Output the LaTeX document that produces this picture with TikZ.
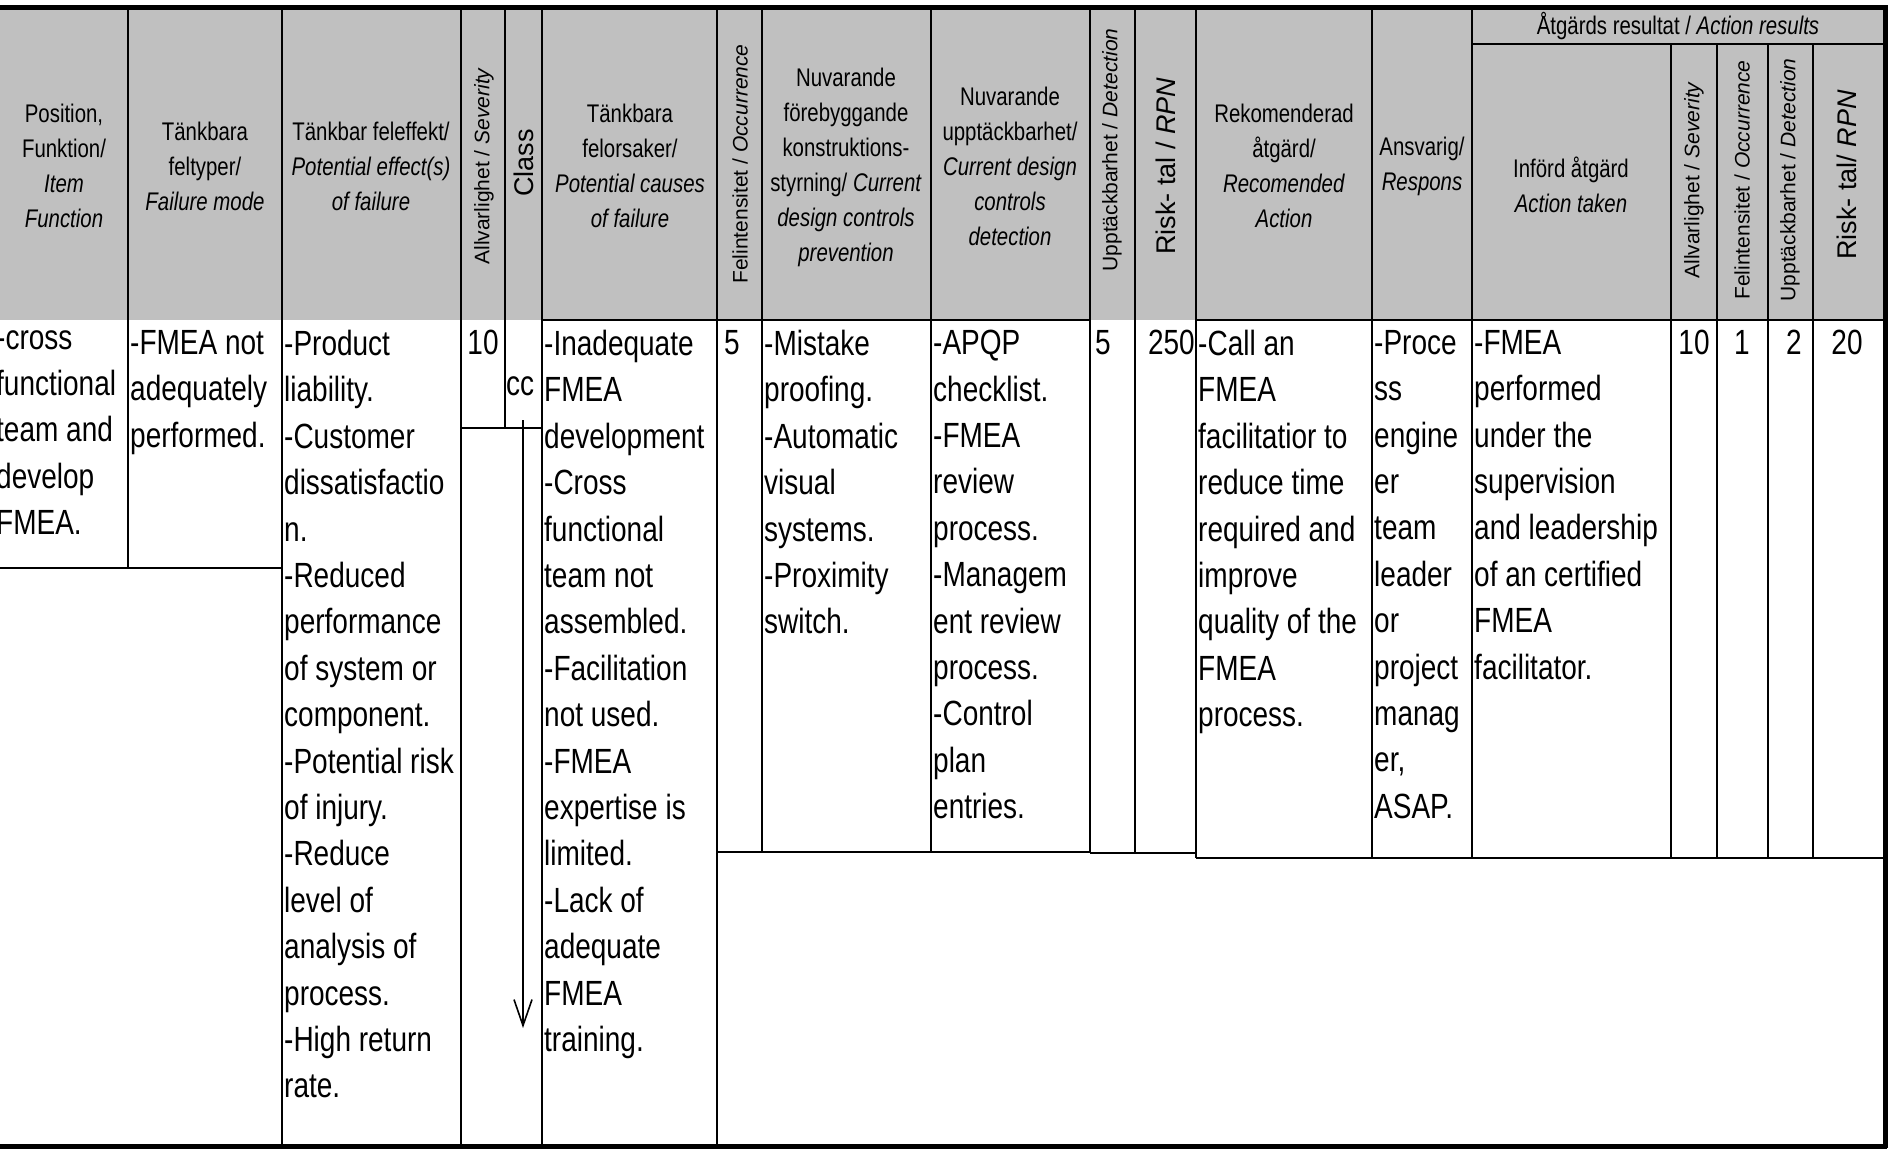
\documentclass[tikz,border=0pt]{standalone}
\usepackage{fontspec}
\usetikzlibrary{arrows.meta}
\newfontfamily\nf[FakeStretch=0.8]{Liberation Sans}
\newfontfamily\rf{Liberation Sans}
\definecolor{hdr}{HTML}{C0C0C0}
\tikzset{
  x=1pt,y=-1pt,
  hd/.style={align=center,inner sep=0pt,font=\nf\fontsize{25.5}{35}\selectfont},
  rot/.style={rotate=90,inner sep=0pt,font=\rf\fontsize{21}{24}\selectfont},
  rotb/.style={rotate=90,inner sep=0pt,font=\rf\fontsize{27}{30}\selectfont},
  bd/.style={anchor=north west,align=left,inner sep=0pt,font=\nf\fontsize{35}{46.4}\selectfont},
  num/.style={anchor=north,inner sep=0pt,font=\nf\fontsize{35}{46.4}\selectfont},
  ln/.style={line width=1.6pt},
  thick line/.style={line width=5pt}
}
\begin{document}
\begin{tikzpicture}
\useasboundingbox (0,0) rectangle (1890,1159);
\fill[hdr] (0,7) rectangle (1885,320);
% header texts
\node[hd] (h1) at (64,166) {Position,\\Funktion/\\\textit{Item}\\\textit{Function}};
\node[hd] (h2) at (205,166) {Tänkbara\\feltyper/\\\textit{Failure mode}};
\node[hd] (h3) at (371,166) {Tänkbar feleffekt/\\\textit{Potential effect(s)}\\\textit{of failure}};
\node[rot] (h4) at (484,166) {Allvarlighet / \textit{Severity}};
\node[rotb] (h5) at (524,163) {Class};
\node[hd] (h6) at (630,166) {Tänkbara\\felorsaker/\\\textit{Potential causes}\\\textit{of failure}};
\node[rot] (h7) at (740,164) {Felintensitet / \textit{Occurrence}};
\node[hd] (h8) at (846,167) {Nuvarande\\förebyggande\\konstruktions-\\styrning/ \textit{Current}\\\textit{design controls}\\\textit{prevention}};
\node[hd] (h9) at (1010,166) {Nuvarande\\upptäckbarhet/\\\textit{Current design}\\\textit{controls}\\\textit{detection}};
\node[rot] (h10) at (1112,150) {Upptäckbarhet / \textit{Detection}};
\node[rotb] (h11) at (1166,166) {Risk- tal / \textit{RPN}};
\node[hd] (h12) at (1284,166) {Rekomenderad\\åtgärd/\\\textit{Recomended}\\\textit{Action}};
\node[hd] (h13) at (1422,166) {Ansvarig/\\\textit{Respons}};
\node[hd] (h0) at (1678,26) {Åtgärds resultat / \textit{Action results}};
\node[hd] (h14) at (1571,185) {Införd åtgärd\\\textit{Action taken}};
\node[rot] (h15) at (1694,180) {Allvarlighet / \textit{Severity}};
\node[rot] (h16) at (1742,180) {Felintensitet / \textit{Occurrence}};
\node[rot] (h17) at (1790,180) {Upptäckbarhet / \textit{Detection}};
\node[rotb] (h18) at (1847,175) {Risk- tal/ \textit{RPN}};
% body texts
\node[bd] (b1) at (-4,330) {-cross\\functional\\team and\\develop\\FMEA.};
\node[bd] (b2) at (130,330) {-FMEA not\\adequately\\performed.};
\node[bd] (b3) at (284,330) {-Product\\liability.\\-Customer\\dissatisfactio\\n.\\-Reduced\\performance\\of system or\\component.\\-Potential risk\\of injury.\\-Reduce\\level of\\analysis of\\process.\\-High return\\rate.};
\node[num] (b4) at (483,330) {10};
\node[bd] (b5) at (506,376) {cc};
\node[bd] (b6) at (544,330) {-Inadequate\\FMEA\\development\\-Cross\\functional\\team not\\assembled.\\-Facilitation\\not used.\\-FMEA\\expertise is\\limited.\\-Lack of\\adequate\\FMEA\\training.};
\node[bd] (b7) at (724,330) {5};
\node[bd] (b8) at (764,330) {-Mistake\\proofing.\\-Automatic\\visual\\systems.\\-Proximity\\switch.};
\node[bd] (b9) at (933,330) {-APQP\\checklist.\\-FMEA\\review\\process.\\-Managem\\ent review\\process.\\-Control\\plan\\entries.};
\node[bd] (b10) at (1095,330) {5};
\node[anchor=north east,inner sep=0pt,font=\nf\fontsize{35}{46.4}\selectfont] (b11) at (1195,330) {250};
\node[bd] (b12) at (1198,330) {-Call an\\FMEA\\facilitatior to\\reduce time\\required and\\improve\\quality of the\\FMEA\\process.};
\node[bd] (b13) at (1374,330) {-Proce\\ss\\engine\\er\\team\\leader\\or\\project\\manag\\er,\\ASAP.};
\node[bd] (b14) at (1474,330) {-FMEA\\performed\\under the\\supervision\\and leadership\\of an certified\\FMEA\\facilitator.};
\node[num] (b15) at (1694,330) {10};
\node[num] (b16) at (1742,330) {1};
\node[num] (b17) at (1794,330) {2};
\node[num] (b18) at (1847,330) {20};
% header verticals
\foreach \x in {128,282,461,505,542,717,762,931,1090,1135,1196,1372,1472}
  \draw[ln] (\x,7) -- (\x,320);
\foreach \x in {1671,1717,1768,1813}
  \draw[ln] (\x,44) -- (\x,320);
\draw[ln] (1472,44) -- (1885,44);
\draw[ln] (542,320) -- (1090,320);
\draw[ln] (1196,320) -- (1885,320);
% body lines
\draw[ln] (128,320) -- (128,568);
\draw[ln] (0,568) -- (282,568);
\foreach \x in {282,461,542,717}
  \draw[ln] (\x,320) -- (\x,1146);
\draw[ln] (505,320) -- (505,428);
\draw[ln] (461,428) -- (542,428);
\foreach \x in {762,931}
  \draw[ln] (\x,320) -- (\x,852);
\draw[ln] (717,852) -- (1090,852);
\foreach \x in {1090,1135}
  \draw[ln] (\x,320) -- (\x,853);
\draw[ln] (1090,853) -- (1196,853);
\foreach \x in {1196,1372,1472,1671,1717,1768,1813}
  \draw[ln] (\x,320) -- (\x,858);
\draw[ln] (1196,858) -- (1885,858);
% arrow in class column
\coordinate (a1) at (523,420);
\coordinate (a2) at (523,1028);
\draw[ln,-{Straight Barb[length=26pt,width=18pt,line width=1.6pt]}] (a1) -- (a2);
% thick frame
\draw[thick line] (0,7) -- (1885,7);
\draw[thick line] (1885,5) -- (1885,1148);
\draw[thick line] (0,1146) -- (1887,1146);
\end{tikzpicture}
\end{document}
